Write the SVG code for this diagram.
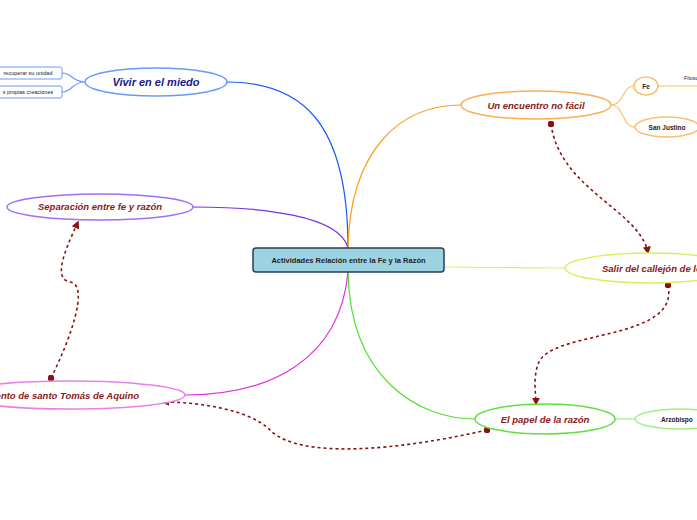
<svg xmlns="http://www.w3.org/2000/svg" width="697" height="520" viewBox="0 0 697 520">
<defs>
<style>
.t{font-family:"Liberation Sans",Arial,sans-serif;font-weight:bold;font-style:italic;font-size:9.5px;fill:#8b1a1a;text-anchor:middle}
.s{font-family:"Liberation Sans",Arial,sans-serif;font-weight:bold;font-size:6.5px;fill:#222;text-anchor:middle}
.n{fill:#fff;stroke-width:1.5}
.c{fill:none;stroke-width:1.2}
.d{fill:none;stroke:#8b1010;stroke-width:1.6;stroke-dasharray:3,3;marker-end:url(#a);marker-start:url(#o)}
</style>
<marker id="a" viewBox="0 0 10 10" refX="8" refY="5" markerWidth="5" markerHeight="5" orient="auto"><path d="M0,0 L10,5 L0,10 Z" fill="#8b1010"/></marker>
<marker id="o" viewBox="0 0 10 10" refX="5" refY="5" markerWidth="4" markerHeight="4"><circle cx="5" cy="5" r="5" fill="#8b1010"/></marker>
</defs>
<rect width="697" height="520" fill="#fff"/>
<g id="connectors">
<path class="c" stroke="#1a5cf5" d="M348,248 C348,120 300,82 227,82"/>
<path class="c" stroke="#7a30e8" d="M348,248 C340,215 260,207 193,207"/>
<path class="c" stroke="#f5a020" d="M348,248 C350,150 400,105 461,105"/>
<path class="c" stroke="#e0f060" d="M444,267 L565,268"/>
<path class="c" stroke="#50e030" d="M348,272 C350,380 420,419 475,419"/>
<path class="c" stroke="#e030e0" d="M348,272 C340,360 270,395 185,395"/>
<path class="c" stroke="#6a9af5" d="M85,82 C72,82 72,73 62,73 M85,82 C72,82 72,92 62,92"/>
<path class="c" stroke="#f8c070" d="M611,105 C624,105 622,86 634,86 M611,105 C624,105 622,127 635,127 M658,86 L697,86"/>
<path class="c" stroke="#a0f080" d="M615,419 L635,419"/>
<path class="d" d="M551,124 C560,190 640,210 648,253"/>
<path class="d" d="M668,285 C680,340 560,330 540,360 C532,375 536,395 536,404"/>
<path class="d" d="M51,378 C70,340 90,285 70,282 C50,279 70,240 78,222"/>
<path class="d" d="M487,430 C400,450 300,460 270,430 C250,410 200,402 163,402"/>
</g>
<g id="center"><rect x="253" y="248" width="191" height="24" rx="3" fill="#9dd3e0" stroke="#2c3e50" stroke-width="1.5"/><text x="348.5" y="263" class="s" style="font-size:7.5px">Actividades Relación entre la Fe y la Razón</text></g>
<g id="vivir"><ellipse class="n" cx="156" cy="82" rx="71" ry="14" stroke="#6a9af5"/><text x="156" y="86" class="t" style="fill:#1a1a8c;font-size:11px">Vivir en el miedo</text></g>
<g id="b1"><rect x="-5" y="67" width="67" height="12" rx="2" fill="#fff" stroke="#6a9af5"/><text x="28" y="75" class="s" style="font-weight:normal;font-size:5.5px">recuperar su unidad</text></g>
<g id="b2"><rect x="-5" y="86" width="67" height="12" rx="2" fill="#fff" stroke="#6a9af5"/><text x="28" y="94" class="s" style="font-weight:normal;font-size:5.5px">s propias creaciones</text></g>
<g id="sep"><ellipse class="n" cx="100" cy="207" rx="93" ry="13" stroke="#a070f5"/><text x="100" y="210" class="t">Separación entre fe y razón</text></g>
<g id="tomas"><ellipse class="n" cx="70" cy="395" rx="115" ry="14" stroke="#e880e8"/><text x="139" y="399" class="t" style="text-anchor:end">Pensamiento de santo Tomás de Aquino</text></g>
<g id="encuentro"><ellipse class="n" cx="536" cy="105" rx="75" ry="14" stroke="#f8b050"/><text x="536" y="109" class="t">Un encuentro no fácil</text></g>
<g id="fe"><ellipse class="n" cx="646" cy="86" rx="12" ry="9" stroke="#f8c070" stroke-width="1"/><text x="646" y="88.5" class="s">Fe</text></g>
<g id="filo"><text x="684" y="80" class="s" style="font-weight:normal;font-size:5.5px;text-anchor:start">Filoso</text></g>
<g id="justino"><ellipse class="n" cx="667" cy="127" rx="32" ry="10" stroke="#f8c070" stroke-width="1"/><text x="667" y="129.5" class="s">San Justino</text></g>
<g id="salir"><ellipse class="n" cx="650" cy="268" rx="85" ry="15" stroke="#d8f060"/><text x="602" y="272" class="t" style="text-anchor:start">Salir del callejón de lo</text></g>
<g id="papel"><ellipse class="n" cx="545" cy="419" rx="70" ry="15" stroke="#60e040"/><text x="545" y="423" class="t">El papel de la razón</text></g>
<g id="arzo"><ellipse class="n" cx="680" cy="419" rx="45" ry="10" stroke="#a0f080" stroke-width="1"/><text x="661" y="421.5" class="s" style="text-anchor:start">Arzobispo</text></g>
</svg>
